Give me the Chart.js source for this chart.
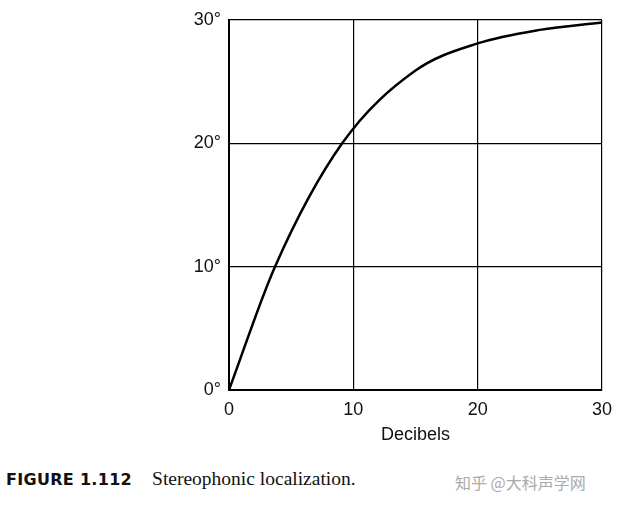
<!DOCTYPE html>
<html><head><meta charset="utf-8">
<script src="https://cdn.jsdelivr.net/npm/chart.js@4"></script>
<style>
body{margin:0;background:#fff;width:624px;height:508px;position:relative;overflow:hidden}
#c{position:absolute;left:0;top:0}
#cap{position:absolute;left:6px;top:468px;font-family:"Liberation Serif",serif;font-size:19.5px;color:#111}
#cap b{font-family:"DejaVu Sans",sans-serif;font-size:16px;margin-right:20px;letter-spacing:0.3px}
#wm{position:absolute;left:455px;top:470px;font-family:"Noto Sans CJK SC";font-size:16px;color:#aaa}
</style></head><body>
<canvas id="c" width="624" height="450"></canvas>
<div id="cap"><b>FIGURE 1.112</b>Stereophonic localization.</div>
<div id="wm">知乎 @大科声学网</div>
<script>
const decibels=[0,3.7,9.1,15,20,25,30];
const degrees=[0,10,20,25.9,28.1,29.2,29.8];
const xTicks=[0,10,20,30];
const yTicks=[0,10,20,30];
new Chart(document.getElementById('c'),{
type:'scatter',
data:{datasets:[{data:decibels.map((x,i)=>({x,y:degrees[i]})),showLine:true,borderColor:'#000',borderWidth:2.5,pointRadius:0,cubicInterpolationMode:'monotone'}]},
options:{responsive:false,animation:false,
layout:{padding:{left:0,top:20,right:22,bottom:0}},
plugins:{legend:{display:false},tooltip:{enabled:false}},
scales:{
x:{min:0,max:30,afterBuildTicks:s=>{s.ticks=xTicks.map(v=>({value:v}))},afterFit:s=>{s.height=60},
grid:{color:'#000',lineWidth:1.2,tickLength:0,drawTicks:false},border:{color:'#000',width:2},
ticks:{color:'#111',font:{family:'Liberation Sans',size:18},padding:9},
title:{display:true,text:'Decibels',color:'#111',font:{family:'Liberation Sans',size:18},padding:{top:0}}},
y:{min:0,max:30,afterBuildTicks:s=>{s.ticks=yTicks.map(v=>({value:v}))},afterFit:s=>{s.width=229},
grid:{color:'#000',lineWidth:1.2,drawTicks:false},border:{color:'#000',width:2},
ticks:{color:'#111',font:{family:'Liberation Sans',size:18},padding:8,callback:v=>v+'°'}}
}}});
</script></body></html>
